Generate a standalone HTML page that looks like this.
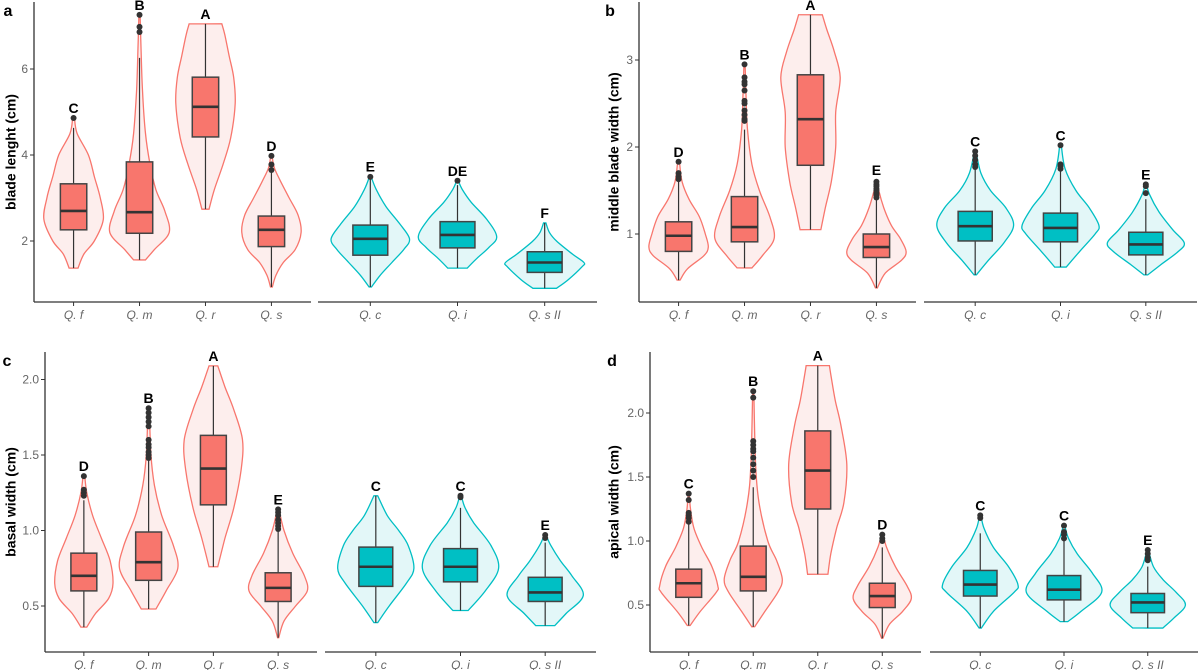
<!DOCTYPE html>
<html><head><meta charset="utf-8">
<style>
html,body{margin:0;padding:0;background:#fff;}
svg{display:block;font-family:"Liberation Sans",Arial,sans-serif;}
</style></head>
<body>
<svg id="chart" width="1200" height="670" viewBox="0 0 1200 670" xmlns="http://www.w3.org/2000/svg"></svg>
<script>
// ---------- data ----------
const categories = ["Q. f","Q. m","Q. r","Q. s","Q. c","Q. i","Q. s II"];
const groupOf = [0,0,0,0,1,1,1];

// panel a: blade length
const aQ1 = [2.26,2.18,4.42,1.87,1.67,1.84,1.27];
const aMed = [2.70,2.67,5.12,2.26,2.05,2.14,1.50];
const aQ3 = [3.33,3.84,5.81,2.58,2.37,2.45,1.75];
const aLo = [1.37,1.56,2.74,0.93,0.93,1.37,0.90];
const aHi = [4.63,6.26,7.05,3.60,3.45,3.30,2.42];
const aOut = [[4.86],[7.26,6.98,6.86],[],[3.98,3.78,3.65],[3.49],[3.40],[]];
const aLetters = ["C","B","A","D","E","DE","F"];
const aTicks = [2,4,6];
const aViolin = [
 [[1.37,0.15],[1.7,0.35],[2.0,0.7],[2.5,1],[3.0,0.9],[3.5,0.7],[4.0,0.5],[4.5,0.12],[4.86,0.03]],
 [[1.56,0.2],[1.8,0.5],[2.2,1],[2.7,0.85],[3.2,0.55],[3.8,0.35],[4.5,0.2],[5.5,0.1],[6.5,0.05],[7.26,0.02]],
 [[2.74,0.12],[3.2,0.3],[3.8,0.6],[4.4,0.85],[5.2,1],[5.8,0.95],[6.3,0.8],[6.8,0.65],[7.05,0.55]],
 [[0.93,0.03],[1.2,0.15],[1.5,0.4],[1.8,0.8],[2.2,1],[2.6,0.9],[3.0,0.6],[3.4,0.3],[3.7,0.1],[3.98,0.02]],
 [[0.93,0.03],[1.2,0.25],[1.5,0.55],[1.8,0.85],[2.05,1],[2.4,0.75],[2.8,0.4],[3.2,0.15],[3.5,0.02]],
 [[1.37,0.25],[1.6,0.5],[1.85,0.8],[2.1,1],[2.5,0.75],[2.9,0.35],[3.2,0.12],[3.4,0.02]],
 [[0.9,0.3],[1.1,0.6],[1.4,0.95],[1.5,1],[1.7,0.7],[2.0,0.3],[2.2,0.12],[2.42,0.03]]
];

// panel b: middle blade width
const bQ1 = [0.80,0.91,1.79,0.73,0.92,0.91,0.76];
const bMed = [0.98,1.08,2.32,0.85,1.09,1.07,0.88];
const bQ3 = [1.14,1.43,2.83,1.00,1.26,1.24,1.02];
const bLo = [0.47,0.61,1.05,0.38,0.53,0.62,0.53];
const bHi = [1.60,2.20,3.52,1.40,1.75,1.73,1.40];
const bOut = [[1.83,1.70,1.66,1.63],[2.95,2.8,2.75,2.72,2.65,2.53,2.5,2.42,2.37,2.32,2.3],[],[1.6,1.57,1.55,1.52,1.5,1.47,1.45,1.42],[1.95,1.9,1.85,1.8,1.77],[2.02,1.8,1.78,1.75],[1.57,1.55,1.47]];
const bLetters = ["D","B","A","E","C","C","E"];
const bTicks = [1,2,3];
const bViolin = [
 [[0.47,0.05],[0.6,0.3],[0.75,0.85],[0.85,1],[1.0,0.9],[1.2,0.7],[1.4,0.35],[1.6,0.12],[1.83,0.03]],
 [[0.61,0.25],[0.75,0.6],[0.95,1],[1.2,0.85],[1.5,0.5],[1.8,0.25],[2.2,0.1],[2.6,0.05],[2.95,0.02]],
 [[1.05,0.35],[1.3,0.5],[1.6,0.7],[2.0,0.85],[2.4,0.85],[2.8,1],[3.1,0.8],[3.35,0.55],[3.52,0.4]],
 [[0.38,0.03],[0.55,0.3],[0.7,0.85],[0.8,1],[0.95,0.8],[1.1,0.5],[1.3,0.25],[1.5,0.08],[1.62,0.02]],
 [[0.53,0.03],[0.7,0.35],[0.9,0.75],[1.1,1],[1.3,0.8],[1.5,0.4],[1.7,0.15],[1.95,0.02]],
 [[0.62,0.15],[0.8,0.5],[1.0,0.9],[1.1,1],[1.3,0.75],[1.5,0.4],[1.75,0.12],[2.02,0.02]],
 [[0.53,0.05],[0.65,0.4],[0.8,0.85],[0.9,1],[1.05,0.7],[1.25,0.35],[1.45,0.1],[1.57,0.02]]
];

// panel c: basal width
const cQ1 = [0.60,0.67,1.17,0.53,0.63,0.66,0.53];
const cMed = [0.70,0.79,1.41,0.62,0.76,0.76,0.59];
const cQ3 = [0.85,0.99,1.63,0.72,0.89,0.88,0.69];
const cLo = [0.36,0.48,0.76,0.29,0.39,0.47,0.37];
const cHi = [1.20,1.47,2.09,1.00,1.23,1.15,0.92];
const cOut = [[1.36,1.27,1.25,1.23],[1.81,1.78,1.75,1.72,1.69,1.6,1.57,1.55,1.52,1.5,1.48],[],[1.14,1.12,1.1,1.07,1.05,1.03,1.01],[],[1.23,1.22],[0.97,0.95]];
const cLetters = ["D","B","A","E","C","C","E"];
const cTicks = [0.5,1.0,1.5,2.0];
const cViolin = [
 [[0.36,0.1],[0.45,0.4],[0.55,0.85],[0.65,1],[0.8,0.9],[0.95,0.6],[1.1,0.3],[1.25,0.1],[1.36,0.03]],
 [[0.48,0.25],[0.6,0.6],[0.75,1],[0.9,0.85],[1.1,0.45],[1.3,0.2],[1.5,0.08],[1.81,0.02]],
 [[0.76,0.15],[0.95,0.4],[1.15,0.7],[1.4,0.95],[1.6,1],[1.8,0.7],[1.95,0.4],[2.09,0.15]],
 [[0.29,0.02],[0.4,0.2],[0.5,0.6],[0.6,1],[0.7,0.9],[0.85,0.5],[1.0,0.2],[1.14,0.03]],
 [[0.39,0.05],[0.5,0.35],[0.65,0.8],[0.75,1],[0.9,0.85],[1.0,0.6],[1.1,0.3],[1.23,0.05]],
 [[0.47,0.2],[0.6,0.65],[0.75,1],[0.9,0.8],[1.05,0.35],[1.15,0.12],[1.23,0.02]],
 [[0.37,0.25],[0.45,0.55],[0.57,1],[0.7,0.7],[0.8,0.4],[0.9,0.15],[0.97,0.02]]
];

// panel d: apical width
const dQ1 = [0.56,0.61,1.25,0.48,0.57,0.54,0.44];
const dMed = [0.67,0.72,1.55,0.57,0.66,0.62,0.52];
const dQ3 = [0.78,0.96,1.86,0.67,0.77,0.73,0.59];
const dLo = [0.34,0.33,0.74,0.24,0.32,0.37,0.32];
const dHi = [1.13,1.42,2.37,0.95,1.06,1.00,0.80];
const dOut = [[1.37,1.32,1.22,1.2,1.18,1.15],[2.17,2.12,1.78,1.75,1.72,1.7,1.65,1.6,1.55,1.5],[],[1.05,1.02,1.0],[1.2,1.18],[1.12,1.07,1.05,1.02],[0.93,0.9,0.87,0.85]];
const dLetters = ["C","B","A","D","C","C","E"];
const dTicks = [0.5,1.0,1.5,2.0];
const dViolin = [
 [[0.34,0.05],[0.45,0.4],[0.6,0.95],[0.65,1],[0.8,0.8],[0.95,0.45],[1.1,0.18],[1.25,0.06],[1.37,0.02]],
 [[0.33,0.05],[0.45,0.4],[0.6,0.85],[0.7,1],[0.85,0.8],[1.0,0.5],[1.3,0.2],[1.6,0.08],[2.17,0.02]],
 [[0.74,0.35],[0.9,0.45],[1.1,0.65],[1.3,0.9],[1.6,1],[1.9,0.8],[2.1,0.6],[2.3,0.45],[2.37,0.4]],
 [[0.24,0.02],[0.35,0.25],[0.45,0.7],[0.55,1],[0.65,0.85],[0.8,0.45],[0.95,0.15],[1.05,0.03]],
 [[0.32,0.03],[0.45,0.35],[0.6,0.9],[0.66,1],[0.8,0.75],[0.95,0.35],[1.1,0.1],[1.2,0.02]],
 [[0.37,0.1],[0.45,0.45],[0.6,1],[0.75,0.75],[0.9,0.35],[1.02,0.12],[1.12,0.02]],
 [[0.32,0.4],[0.4,0.7],[0.5,1],[0.6,0.75],[0.7,0.4],[0.8,0.15],[0.93,0.02]]
];

// ---------- layout (not data) ----------
const panels = [
 {id:"a",title:"blade lenght (cm)",v0:2,y0:241,k:43,ax:34,top:2,bot:302,f1:[34,311],f2:[318,597],tx:12,lx:8,ly:16,
  q1:aQ1,med:aMed,q3:aQ3,lo:aLo,hi:aHi,out:aOut,let:aLetters,ticks:aTicks,vio:aViolin,fmt:0},
 {id:"b",title:"middle blade width (cm)",v0:1,y0:234,k:87,ax:639,top:2,bot:302,f1:[639,916],f2:[924,1197],tx:615,lx:610,ly:16,
  q1:bQ1,med:bMed,q3:bQ3,lo:bLo,hi:bHi,out:bOut,let:bLetters,ticks:bTicks,vio:bViolin,fmt:0},
 {id:"c",title:"basal width (cm)",v0:0.5,y0:606,k:151,ax:45,top:352,bot:652,f1:[45,317],f2:[325,596],tx:12,lx:7,ly:366,
  q1:cQ1,med:cMed,q3:cQ3,lo:cLo,hi:cHi,out:cOut,let:cLetters,ticks:cTicks,vio:cViolin,fmt:1},
 {id:"d",title:"apical width (cm)",v0:0.5,y0:605,k:128,ax:650,top:352,bot:652,f1:[650,921],f2:[930,1198],tx:615,lx:612,ly:366,
  q1:dQ1,med:dMed,q3:dQ3,lo:dLo,hi:dHi,out:dOut,let:dLetters,ticks:dTicks,vio:dViolin,fmt:1}
];

const NS="http://www.w3.org/2000/svg";
const svg=document.getElementById("chart");
function mk(tag,attrs,parent,text){
  const e=document.createElementNS(NS,tag);
  for(const k in attrs)e.setAttribute(k,attrs[k]);
  if(text!==undefined)e.textContent=text;
  (parent||svg).appendChild(e);return e;
}
function smoothPath(pts){
  // Catmull-Rom through pts -> cubic bezier segments
  let d="";
  for(let i=0;i<pts.length-1;i++){
    const p0=pts[Math.max(0,i-1)],p1=pts[i],p2=pts[i+1],p3=pts[Math.min(pts.length-1,i+2)];
    const c1=[p1[0]+(p2[0]-p0[0])/6,p1[1]+(p2[1]-p0[1])/6];
    const c2=[p2[0]-(p3[0]-p1[0])/6,p2[1]-(p3[1]-p1[1])/6];
    d+=` C${c1[0].toFixed(1)},${c1[1].toFixed(1)} ${c2[0].toFixed(1)},${c2[1].toFixed(1)} ${p2[0].toFixed(1)},${p2[1].toFixed(1)}`;
  }
  return d;
}
const RED="#F8766D",CYAN="#00BFC4";

panels.forEach(P=>{
  const g=mk("g",{});
  
  
  const y=v=>P.y0-(v-P.v0)*P.k;
  // x band scale per facet (ggplot discrete expansion 0.6)
  function xOf(i){
    const grp=groupOf[i];
    const f=grp===0?P.f1:P.f2;
    const n=groupOf.filter(x=>x===grp).length;
    const idx=groupOf.slice(0,i).filter(x=>x===grp).length;
    const step=(f[1]-f[0])/(n-1+1.2);
    return {cx:f[0]+step*(0.6+idx),step:step};
  }
  // panel letter
  const pl=mk("text",{x:P.lx,y:P.ly,"font-size":16,"font-weight":"bold","text-anchor":"middle",fill:"#000"},g,P.id);
  
  
  // y title
  const cy=(P.top+P.bot)/2;
  const yt=mk("text",{x:P.tx,y:cy,"font-size":14,"font-weight":"bold","text-anchor":"middle",fill:"#000","dominant-baseline":"middle",transform:`rotate(-90 ${P.tx} ${cy})`},g,P.title);
  
  
  // y axis
  const ya=mk("line",{x1:P.ax,y1:P.top,x2:P.ax,y2:P.bot,stroke:"#333","stroke-width":1.3},g);
  
  
  P.ticks.forEach(t=>{
    const ty=y(t);
    mk("line",{x1:P.ax-4,y1:ty,x2:P.ax,y2:ty,stroke:"#333","stroke-width":1},g);
    const tl=mk("text",{x:P.ax-6,y:ty+4,"font-size":12,fill:"#666","text-anchor":"end"},g,P.fmt?t.toFixed(1):String(t));
    
    
  });
  // x axes per facet
  [P.f1,P.f2].forEach((f,fi)=>{
    const xa=mk("line",{x1:f[0],y1:P.bot,x2:f[1],y2:P.bot,stroke:"#333","stroke-width":1.3},g);
    
    
  });
  categories.forEach((cat,i)=>{
    const {cx,step}=xOf(i);
    const col=groupOf[i]===0?RED:CYAN;
    const fillV=groupOf[i]===0?"#fdeeed":"#e3f7f8";
    const hw=step*0.45;
    // violin
    const knots=P.vio[i];
    const right=knots.map(k=>[cx+k[1]*hw,y(k[0])]);
    const left=knots.slice().reverse().map(k=>[cx-k[1]*hw,y(k[0])]);
    let d=`M${cx},${y(knots[0][0])} L${right[0][0]},${right[0][1]}`+smoothPath(right)+` L${cx},${y(knots[knots.length-1][0])} L${left[0][0]},${left[0][1]}`+smoothPath(left)+" Z";
    const vp=mk("path",{d:d,fill:fillV,stroke:col,"stroke-width":1.3},g);
    
    
    // whisker
    const wl=mk("line",{x1:cx,y1:y(P.lo[i]),x2:cx,y2:y(P.hi[i]),stroke:"#333","stroke-width":1.2},g);
    
    
    // box
    const bw=step*0.4;
    const bx=mk("rect",{x:cx-bw/2,y:y(P.q3[i]),width:bw,height:y(P.q1[i])-y(P.q3[i]),fill:col,stroke:"#444","stroke-width":1.5},g);
    
    
    const md=mk("line",{x1:cx-bw/2,y1:y(P.med[i]),x2:cx+bw/2,y2:y(P.med[i]),stroke:"#333","stroke-width":2.6},g);
    
    
    // outliers
    P.out[i].forEach(o=>{
      const c=mk("circle",{cx:cx,cy:y(o),r:3,fill:"#333"},g);
      
      
    });
    // letter
    const topV=Math.max(P.hi[i],...P.out[i],knots[knots.length-1][0]);
    const lt=mk("text",{x:cx,y:y(topV)-5,"font-size":14,"font-weight":"bold","text-anchor":"middle",fill:"#000"},g,P.let[i]);
    
    
    // x tick + label
    mk("line",{x1:cx,y1:P.bot,x2:cx,y2:P.bot+4,stroke:"#333","stroke-width":1},g);
    const xl=mk("text",{x:cx,y:P.bot+17,"font-size":12,"font-style":"italic",fill:"#666","text-anchor":"middle"},g,cat);
    
    
  });
});
</script>
</body></html>
